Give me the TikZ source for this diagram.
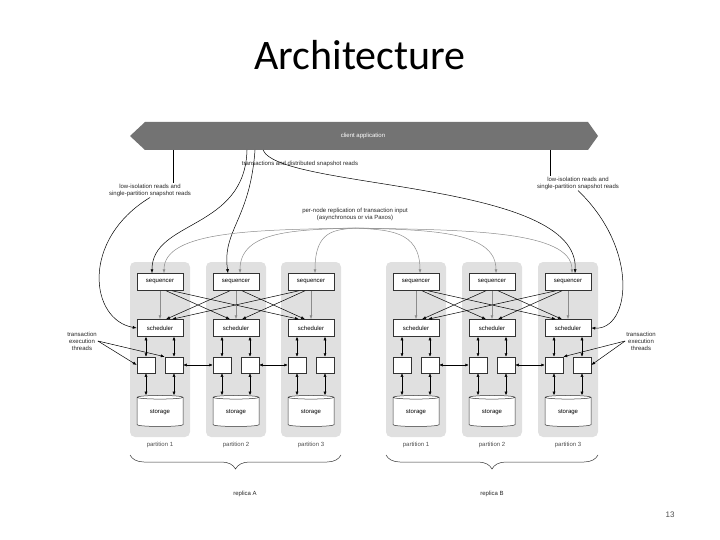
\documentclass[tikz,border=0pt]{standalone}
\usepackage{fontspec}
\setmainfont{Liberation Sans}
\newfontfamily\titlefont{Carlito}
\usetikzlibrary{shapes.geometric,shapes.symbols,arrows.meta,decorations.pathreplacing}
\begin{document}
\begin{tikzpicture}[x=1pt,y=-1pt,
  box/.style={draw=black!80,fill=white,line width=.5pt,minimum width=46pt,minimum height=17pt,inner sep=0pt,font=\fontsize{6}{7}\selectfont},
  thr/.style={draw=black!80,fill=white,line width=.5pt,minimum width=18pt,minimum height=16pt,inner sep=0pt},
  store/.style={draw=black!80,fill=white,line width=.5pt,cylinder,shape border rotate=90,aspect=.18,minimum width=46pt,minimum height=31pt,inner sep=0pt,font=\fontsize{6}{7}\selectfont},
  panel/.style={fill=black!12,rounded corners=5pt},
  lbl/.style={font=\fontsize{6}{7}\selectfont,align=center,inner sep=1pt,text=black!85},
  blk/.style={-{Latex[length=4pt,width=3pt]},line width=.5pt},
  gry/.style={-{Latex[length=4pt,width=3pt]},line width=.5pt,draw=black!45},
  bi/.style={{Latex[length=3.5pt,width=3pt]}-{Latex[length=3.5pt,width=3pt]},line width=.5pt}]
\useasboundingbox (0,0) rectangle (720,540);

\node[font=\titlefont\fontsize{42}{48}\selectfont] (title) at (360,55) {Architecture};

% client bar
\fill[black!55] (145,122) -- (588,122) -- (598,136) -- (588,150) -- (145,150) -- (130,136) -- cycle;
\node[font=\fontsize{6}{7}\selectfont,text=white] (client) at (363,136) {client application};
\coordinate (c1) at (173,150);
\coordinate (c2) at (247,150);
\coordinate (c3) at (255,150);
\coordinate (c4) at (263,150);
\coordinate (c5) at (550,150);

% partitions
\foreach \r/\xa/\xb/\xc in {A/160/236/311,B/416/492/568}{
  \foreach \p/\x in {1/\xa,2/\xb,3/\xc}{
    \fill[panel] (\x-30,262) rectangle (\x+30,437);
    \node[box] (s\r\p) at (\x,282) {sequencer};
    \node[box] (k\r\p) at (\x,328) {scheduler};
    \node[thr] (t\r\p a) at (\x-14,365) {};
    \node[thr] (t\r\p b) at (\x+14,365) {};
    \node[store] (d\r\p) at (\x,412) {storage};
    \node[lbl,text=black!70] (p\r\p) at (\x,445) {partition \p};
    \draw[bi] (k\r\p.south -| t\r\p a) -- (t\r\p a);
    \draw[bi] (k\r\p.south -| t\r\p b) -- (t\r\p b);
    \draw[bi] (t\r\p a) -- (d\r\p.north -| t\r\p a);
    \draw[bi] (t\r\p b) -- (d\r\p.north -| t\r\p b);
  }
  \draw[bi] (t\r1b) -- (t\r2a);
  \draw[bi] (t\r2b) -- (t\r3a);
  \foreach \i in {1,2,3}{
    \foreach \j in {1,2,3}{
      \ifnum\i=\j
        \draw[gry] (s\r\i) -- (k\r\j);
      \else
        \draw[blk] ([xshift={6*(\j-\i)}]s\r\i.south) -- ([xshift={-6*(\j-\i)}]k\r\j.north);
      \fi
    }
  }
}

% braces
\draw[decorate,decoration={brace,amplitude=14pt,mirror},line width=.5pt,draw=black!80] (130,455) -- (341,455);
\draw[decorate,decoration={brace,amplitude=14pt,mirror},line width=.5pt,draw=black!80] (386,455) -- (598,455);
\node[lbl] (repA) at (245,494) {replica A};
\node[lbl] (repB) at (492,494) {replica B};

% labels
\node[lbl] (ltx) at (300,164) {transactions and distributed snapshot reads};
\node[lbl] (llo) at (150,190) {low-isolation reads and\\single-partition snapshot reads};
\node[lbl] (rlo) at (578,183) {low-isolation reads and\\single-partition snapshot reads};
\node[lbl] (rep) at (355,214) {per-node replication of transaction input\\(asynchronous or via Paxos)};
\node[lbl] (lth) at (82,341) {transaction\\execution\\threads};
\node[lbl] (rth) at (641,341) {transaction\\execution\\threads};

% client connectors
\draw[line width=.5pt] (c1) -- (llo.north -| c1);
\draw[blk] (llo.south) .. controls (80,240) and (90,320) .. (kA1.west);
\draw[line width=.5pt] (c5) -- (rlo.north -| c5);
\draw[blk] (rlo.south) .. controls (640,250) and (630,330) .. (kB3.east);
\draw[blk] (c2) .. controls (245,230) and (152,220) .. ([xshift=-8]sA1.north);
\draw[blk] (c3) .. controls (250,220) and (222,230) .. ([xshift=-8]sA2.north);
\draw[blk] (c4) .. controls (280,190) and (580,180) .. ([xshift=7]sB3.north);

% replication
\coordinate (rsrc) at (355,228);
\foreach \s/\x in {A1/164,A2/240,A3/315,B1/420,B2/496,B3/572}{
  \draw[gry] (rsrc) .. controls ({(355+\x)/2},230) and (\x,230) .. ([xshift=4]s\s.north);
}

% thread pointers
\draw[blk] (lth.east) -- (tA1a.west);
\draw[blk] (lth.east) -- (tA1b.north west);
\draw[blk] (rth.west) -- (tB3b.east);
\draw[blk] (rth.west) -- (tB3a.north east);

\node[font=\fontsize{8}{9}\selectfont,text=black!70] (pg) at (670,515) {13};
\end{tikzpicture}
\end{document}
